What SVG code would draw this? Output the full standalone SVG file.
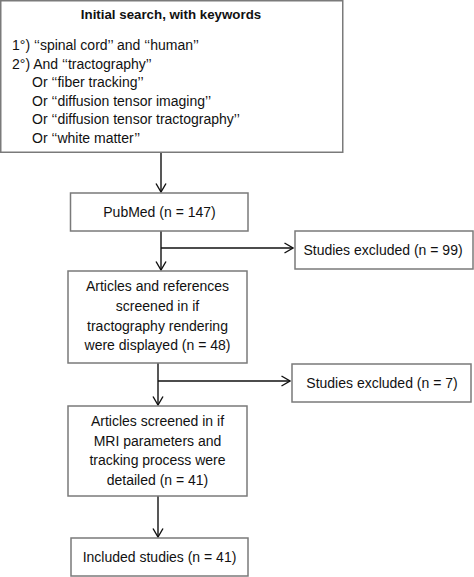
<svg xmlns="http://www.w3.org/2000/svg" width="474" height="577" viewBox="0 0 474 577">
<style>
.box{fill:#fff;stroke:#7a7a7a;stroke-width:1.5}
.t{font-family:"Liberation Sans",Arial,sans-serif;font-size:14px;fill:#111}
.c{text-anchor:middle}
.b{font-weight:bold;font-size:13.3px}
.ln{stroke:#111;stroke-width:1.4;fill:none}
</style>
<defs>
<marker id="ah" viewBox="0 0 10 12" refX="9.5" refY="6" markerWidth="10" markerHeight="12" markerUnits="userSpaceOnUse" orient="auto">
<path d="M1,1 L9.5,6 L1,11" fill="none" stroke="#111" stroke-width="1.4"/>
</marker>
</defs>
<rect width="474" height="577" fill="#fff"/>
<g id="connectors">
<line class="ln" x1="161" y1="152" x2="161" y2="192" marker-end="url(#ah)"/>
<line class="ln" x1="161" y1="231" x2="161" y2="270" marker-end="url(#ah)"/>
<line class="ln" x1="161" y1="248" x2="293" y2="248" marker-end="url(#ah)"/>
<line class="ln" x1="158" y1="363" x2="158" y2="405" marker-end="url(#ah)"/>
<line class="ln" x1="158" y1="381" x2="290" y2="381" marker-end="url(#ah)"/>
<line class="ln" x1="158" y1="496" x2="158" y2="537" marker-end="url(#ah)"/>
</g>
<g id="search">
<rect class="box" x="0.75" y="0.75" width="342" height="151.5"/>
<text class="t c b" x="171" y="19">Initial search, with keywords</text>
<text class="t" x="12" y="50">1°) ‘‘spinal cord’’ and ‘‘human’’</text>
<text class="t" x="12" y="69">2°) And ‘‘tractography’’</text>
<text class="t" x="32" y="87">Or ‘‘fiber tracking’’</text>
<text class="t" x="32" y="106">Or ‘‘diffusion tensor imaging’’</text>
<text class="t" x="32" y="124">Or ‘‘diffusion tensor tractography’’</text>
<text class="t" x="32" y="143">Or ‘‘white matter’’</text>
</g>
<g id="pubmed">
<rect class="box" x="70.5" y="193" width="177.5" height="38"/>
<text class="t c" x="159.5" y="217">PubMed (n = 147)</text>
</g>
<g id="excluded99">
<rect class="box" x="295" y="231" width="178" height="38"/>
<text class="t c" x="383" y="255">Studies excluded (n = 99)</text>
</g>
<g id="articles">
<rect class="box" x="68" y="271" width="179" height="92"/>
<text class="t c" x="157.5" y="291">Articles and references</text>
<text class="t c" x="157.5" y="311">screened in if</text>
<text class="t c" x="157.5" y="330.5">tractography rendering</text>
<text class="t c" x="157.5" y="350">were displayed (n = 48)</text>
</g>
<g id="excluded7">
<rect class="box" x="292" y="364" width="179" height="38"/>
<text class="t c" x="382" y="388">Studies excluded (n = 7)</text>
</g>
<g id="mri">
<rect class="box" x="68" y="406" width="179" height="90"/>
<text class="t c" x="157.5" y="425.5">Articles screened in if</text>
<text class="t c" x="157.5" y="445.5">MRI parameters and</text>
<text class="t c" x="157.5" y="465">tracking process were</text>
<text class="t c" x="157.5" y="484.5">detailed (n = 41)</text>
</g>
<g id="included">
<rect class="box" x="71" y="538" width="177" height="38"/>
<text class="t c" x="159.5" y="562">Included studies (n = 41)</text>
</g>
</svg>
